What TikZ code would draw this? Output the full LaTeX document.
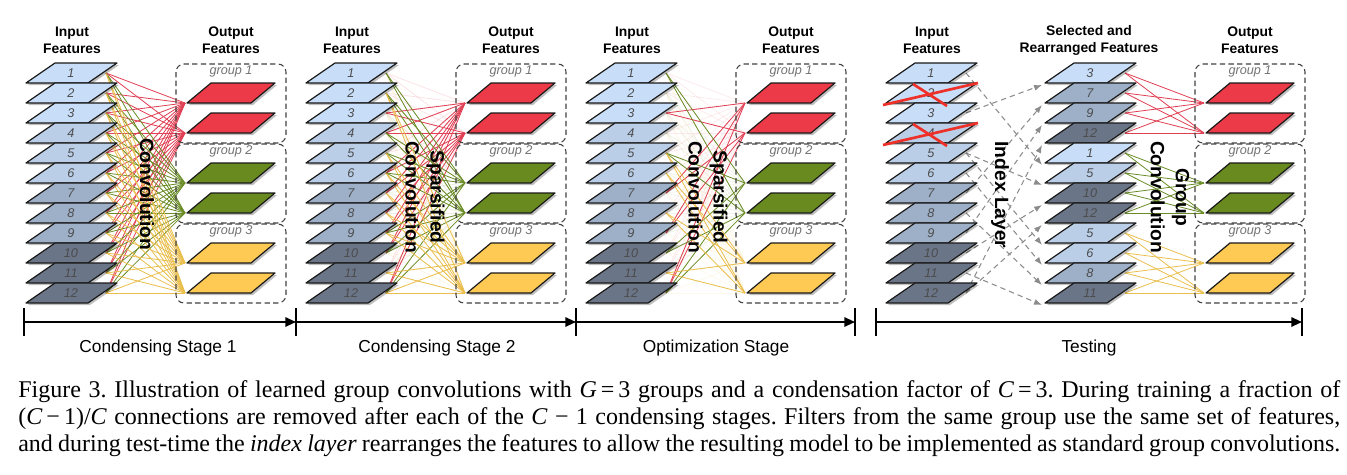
\documentclass[tikz,border=0pt]{standalone}
\usepackage{fontspec}
\setmainfont{Liberation Sans}
\newfontfamily\capfont{Liberation Serif}
\usetikzlibrary{arrows.meta,calc,backgrounds}

\definecolor{fa}{RGB}{200,222,248}
\definecolor{fb}{RGB}{186,206,232}
\definecolor{fc}{RGB}{157,176,200}
\definecolor{fd}{RGB}{106,117,136}
\colorlet{f1}{fa}\colorlet{f2}{fa}\colorlet{f3}{fa}
\colorlet{f4}{fb}\colorlet{f5}{fb}\colorlet{f6}{fb}
\colorlet{f7}{fc}\colorlet{f8}{fc}\colorlet{f9}{fc}
\colorlet{f10}{fd}\colorlet{f11}{fd}\colorlet{f12}{fd}
\definecolor{lr}{RGB}{224,62,82}
\definecolor{lg}{RGB}{106,140,38}
\definecolor{ly}{RGB}{234,190,76}
\definecolor{outred}{RGB}{236,58,72}
\definecolor{outgreen}{RGB}{104,138,30}
\definecolor{outyellow}{RGB}{255,202,84}
\definecolor{crossred}{RGB}{238,48,40}

% input feature map: name, x offset, bottom edge, number
\newcommand{\featlayer}[4]{%
  \fill[black, opacity=0.25] ({#2+28},{#3+2}) -- ({#2+90},{#3+2}) -- ({#2+119},{#3-18}) -- ({#2+57},{#3-18}) -- cycle;
  \draw[feat, fill=f#4] ({#2+26},{#3}) -- ({#2+88},{#3}) -- ({#2+117},{#3-20}) -- ({#2+55},{#3-20}) -- cycle;
  \node[featnum] (#1) at ({#2+71},{#3-10}) {#4};
  \coordinate (#1-r) at ({#2+106},{#3-10});
  \coordinate (#1-l) at ({#2+23},{#3+2});
}
% output feature map: name, x offset, top edge, colour
\newcommand{\outlayer}[4]{%
  \fill[black, opacity=0.25] ({#2+189},{#3+22}) -- ({#2+253},{#3+22}) -- ({#2+277},{#3+2}) -- ({#2+213},{#3+2}) -- cycle;
  \draw[feat, fill=#4] ({#2+187},{#3+20}) -- ({#2+251},{#3+20}) -- ({#2+275},{#3}) -- ({#2+211},{#3}) -- cycle;
  \coordinate (#1) at ({#2+185},{#3+20});
}

\begin{document}
\begin{tikzpicture}[x=0.75pt,y=-0.75pt,
    feat/.style={draw=black!90, line width=0.9pt, line join=round},
    featnum/.style={font=\fontsize{9.5}{10}\selectfont\itshape, text=black!70},
    head/.style={font=\fontsize{10.4}{12.8}\selectfont\bfseries, align=center},
    convlbl/.style={font=\fontsize{14.4}{18.8}\selectfont\bfseries, align=center, rotate=-90},
    outbox/.style={draw=black!75, line width=0.8pt, dash pattern=on 4pt off 2.5pt, rounded corners=6pt},
    grouplbl/.style={font=\fontsize{9.5}{10}\selectfont\itshape, text=black!55},
    conn/.style={line width=0.6pt},
    faint/.style={opacity=0.15},
    idx/.style={draw=black!45, line width=0.8pt, dash pattern=on 4pt off 3pt, -{Latex[length=6pt,width=4.5pt]}},
    cross/.style={draw=crossred, line width=2pt},
    stagearrow/.style={line width=1.4pt, -{Triangle[length=8pt,width=7pt]}},
    stagetick/.style={line width=1pt},
    stagelbl/.style={font=\fontsize{13}{15}\selectfont},
    caption/.style={font=\capfont\fontsize{18}{20}\selectfont\frenchspacing, anchor=base west, inner sep=0pt}]
\useasboundingbox (0,0) rectangle (1347,475);

% training panels
\foreach \X/\p in {0/a,280/b,560/c}{
  \foreach \i in {1,...,12}{\featlayer{\p\i}{\X}{83+20*(\i-1)}{\i}}
  \foreach \g in {1,2,3}{
    \draw[outbox] ({\X+176},{64+80*(\g-1)}) rectangle ++(110,79);
    \node[grouplbl] (\p g\g) at ({\X+231},{71+80*(\g-1)}) {group \g};
  }
  \foreach \k/\t/\c in {1/83/outred,2/113/outred,3/163/outgreen,4/193/outgreen,5/243/outyellow,6/273/outyellow}{\outlayer{\p o\k}{\X}{\t}{\c}}
  \node[head] (\p in) at ({\X+72},40) {Input\\Features};
  \node[head] (\p out) at ({\X+231},40) {Output\\Features};
}

% testing panel
\foreach \i in {1,...,12}{\featlayer{d\i}{860}{83+20*(\i-1)}{\i}}
\foreach \j/\n in {1/3,2/7,3/9,4/12,5/1,6/5,7/10,8/12,9/5,10/6,11/8,12/11}{\featlayer{dm\j}{1019}{83+20*(\j-1)}{\n}}
\foreach \g in {1,2,3}{
  \draw[outbox] (1195,{64+80*(\g-1)}) rectangle ++(110,79);
  \node[grouplbl] (dg\g) at (1250,{71+80*(\g-1)}) {group \g};
}
\foreach \k/\t/\c in {1/83/outred,2/113/outred,3/163/outgreen,4/193/outgreen,5/243/outyellow,6/273/outyellow}{\outlayer{do\k}{1019}{\t}{\c}}
\node[head] (din) at (932,40) {Input\\Features};
\node[head] (dsel) at (1089,40) {Selected and\\Rearranged Features};
\node[head] (dout) at (1250,40) {Output\\Features};
\foreach \n in {d2,d4}{
  \draw[cross] ($(\n)+(-48,12)$) -- ($(\n)+(47,-10)$);
  \draw[cross] ($(\n)+(-18,-9)$) -- ($(\n)+(16,13)$);
}

\node[convlbl] (aconv) at (147,194) {Convolution};
\node[convlbl] (bconv) at (425,197) {Sparsified\\Convolution};
\node[convlbl] (cconv) at (708,197) {Sparsified\\Convolution};
\node[convlbl] (dindex) at (1000,195) {Index Layer};
\node[convlbl] (dconv) at (1170,197) {Group\\Convolution};

\begin{scope}[on background layer]
  \foreach \k/\c in {1/lr,2/lr,3/lg,4/lg,5/ly,6/ly}{
    \foreach \i in {1,...,12}{
      \draw[conn,\c] (a\i-r) -- (ao\k);
      \draw[conn,\c,faint] (b\i-r) -- (bo\k);
      \draw[conn,\c,opacity=0.1] (c\i-r) -- (co\k);
    }
  }
  % kept after stage 1
  \foreach \g/\c/\keep in {1/lr/{3,4,6,7,8,9,10,12},2/lg/{1,2,4,5,6,9,10,12},3/ly/{2,5,6,7,8,9,11,12}}{
    \foreach \i in \keep{\foreach \h in {1,2}{
      \pgfmathtruncatemacro\k{2*\g-2+\h}
      \draw[conn,\c] (b\i-r) -- (bo\k);}}}
  % kept after stage 2
  \foreach \g/\c/\keep in {1/lr/{3,7,9,12},2/lg/{1,5,10,12},3/ly/{5,6,8,11}}{
    \foreach \i in \keep{\foreach \h in {1,2}{
      \pgfmathtruncatemacro\k{2*\g-2+\h}
      \draw[conn,\c] (c\i-r) -- (co\k);}}}
  % group convolution
  \foreach \g/\c in {1/lr,2/lg,3/ly}{\foreach \m in {1,...,4}{\foreach \h in {1,2}{
    \pgfmathtruncatemacro\j{4*\g-4+\m}
    \pgfmathtruncatemacro\k{2*\g-2+\h}
    \draw[conn,\c] (dm\j-r) -- (do\k);}}}
  % index layer
  \foreach \s/\t in {3/1,7/2,9/3,12/4,1/5,5/6,10/7,12/8,5/9,6/10,8/11,11/12}{\draw[idx] (d\s-r) -- (dm\t-l);}
\end{scope}

% stages
\coordinate (t0) at (24,322);
\coordinate (t1) at (296,322);
\coordinate (t2) at (576,322);
\coordinate (t3) at (855,322);
\coordinate (t4) at (876,322);
\coordinate (t5) at (1302,322);
\foreach \t in {t0,t1,t2,t3,t4,t5}{\draw[stagetick] ($(\t)+(0,-14)$) -- ($(\t)+(0,14)$);}
\draw[stagearrow] (t0) -- (t1);
\draw[stagearrow] (t1) -- (t2);
\draw[stagearrow] (t2) -- (t3);
\draw[stagearrow] (t4) -- (t5);
\node[stagelbl] (s1) at (158,348) {Condensing Stage 1};
\node[stagelbl] (s2) at (437,348) {Condensing Stage 2};
\node[stagelbl] (s3) at (716,348) {Optimization Stage};
\node[stagelbl] (s4) at (1089,348) {Testing};

\node[caption] (cap1) at (18,397) {\makebox[991.5pt][s]{Figure 3. Illustration of learned group convolutions with \textit{G}\,=\,3 groups and a condensation factor of \textit{C}\,=\,3. During training a fraction of}};
\node[caption] (cap2) at (18,424) {\makebox[991.5pt][s]{(\textit{C}\,−\,1)/\textit{C} connections are removed after each of the \textit{C} − 1 condensing stages. Filters from the same group use the same set of features,}};
\node[caption] (cap3) at (18,451) {\makebox[991.5pt][s]{and during test-time the \textit{index layer} rearranges the features to allow the resulting model to be implemented as standard group convolutions.}};
\end{tikzpicture}
\end{document}
